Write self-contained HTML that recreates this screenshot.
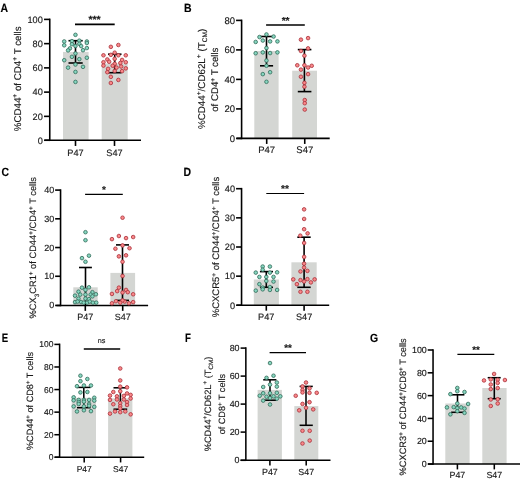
<!DOCTYPE html>
<html lang="en"><head><meta charset="utf-8"><title>Figure</title>
<style>html,body{margin:0;padding:0;background:#fff;}body{width:520px;height:488px;overflow:hidden;}svg{display:block;}text{stroke:#1a1a1a;stroke-width:.15px;}</style>
</head><body>
<svg width="520" height="488" viewBox="0 0 520 488" font-family="'Liberation Sans', Arial, sans-serif" fill="#1a1a1a" text-rendering="geometricPrecision">
<rect width="520" height="488" fill="#ffffff"/>
<g transform="translate(0,0.3)">
<g>
<text transform="translate(0.4,11.6) scale(0.88,1)" font-size="11.9" font-weight="bold" fill="#000">A</text>
<rect x="63.0" y="51.6" width="25.6" height="88.35" fill="#d4d6d3"/>
<rect x="101.7" y="63.15" width="26.0" height="76.8" fill="#d4d6d3"/>
<g stroke="#000" stroke-width="1.6" fill="none">
<line x1="49.75" y1="18.3" x2="49.75" y2="140.75"/>
<line x1="44.6" y1="139.95" x2="141.0" y2="139.95"/>
<line x1="44.05" y1="19.1" x2="49.75" y2="19.1"/>
<line x1="44.05" y1="43.34" x2="49.75" y2="43.34"/>
<line x1="44.05" y1="67.58" x2="49.75" y2="67.58"/>
<line x1="44.05" y1="91.82" x2="49.75" y2="91.82"/>
<line x1="44.05" y1="116.06" x2="49.75" y2="116.06"/>
<line x1="44.05" y1="139.95" x2="49.75" y2="139.95"/>
<line x1="75.5" y1="139.95" x2="75.5" y2="145.65"/>
<line x1="114.5" y1="139.95" x2="114.5" y2="145.65"/>
<line x1="75.5" y1="40.4" x2="75.5" y2="62.7"/>
<line x1="68.5" y1="40.4" x2="82.7" y2="40.4"/>
<line x1="68.5" y1="62.7" x2="82.7" y2="62.7"/>
<line x1="114.7" y1="53.9" x2="114.7" y2="72.4"/>
<line x1="108.0" y1="53.9" x2="121.5" y2="53.9"/>
<line x1="108.0" y1="72.4" x2="121.5" y2="72.4"/>
<line x1="75.0" y1="24.1" x2="114.7" y2="24.1" stroke-width="1.6"/>
</g>
<g font-size="9.2" text-anchor="end">
<text x="42.8" y="22.39">100</text>
<text x="42.8" y="46.63">80</text>
<text x="42.8" y="70.87">60</text>
<text x="42.8" y="95.11">40</text>
<text x="42.8" y="119.35">20</text>
<text x="42.8" y="143.59">0</text>
</g>
<g font-size="9.2" text-anchor="middle">
<text x="75.5" y="155.5">P47</text>
<text x="114.5" y="155.5">S47</text>
</g>
<text x="94.55" y="22.23" font-size="10.5" text-anchor="middle" font-weight="bold">***</text>
<text transform="translate(20.9,78.5) rotate(-90)" font-size="9.75" text-anchor="middle">%CD44<tspan dy="-3.51" font-size="6.63">+</tspan><tspan dy="3.51" font-size="1">&#8203;</tspan> of CD4<tspan dy="-3.51" font-size="6.63">+</tspan><tspan dy="3.51" font-size="1">&#8203;</tspan> T cells</text>
<g fill="#86d6c0" stroke="#38705f" stroke-width="0.85">
<circle cx="75.46" cy="34.54" r="1.8"/>
<circle cx="64.23" cy="41.15" r="1.8"/>
<circle cx="71.92" cy="40.85" r="1.8"/>
<circle cx="79.31" cy="40.38" r="1.8"/>
<circle cx="86.85" cy="41.15" r="1.8"/>
<circle cx="64.23" cy="45.0" r="1.8"/>
<circle cx="71.92" cy="43.92" r="1.8"/>
<circle cx="79.31" cy="43.46" r="1.8"/>
<circle cx="86.85" cy="42.69" r="1.8"/>
<circle cx="75.46" cy="45.77" r="1.8"/>
<circle cx="81.15" cy="45.77" r="1.8"/>
<circle cx="86.85" cy="47.77" r="1.8"/>
<circle cx="69.92" cy="48.08" r="1.8"/>
<circle cx="68.08" cy="50.08" r="1.8"/>
<circle cx="83.0" cy="49.92" r="1.8"/>
<circle cx="75.46" cy="53.15" r="1.8"/>
<circle cx="71.92" cy="56.54" r="1.8"/>
<circle cx="86.85" cy="57.46" r="1.8"/>
<circle cx="64.23" cy="59.92" r="1.8"/>
<circle cx="79.31" cy="58.85" r="1.8"/>
<circle cx="75.46" cy="64.23" r="1.8"/>
<circle cx="68.08" cy="67.31" r="1.8"/>
<circle cx="83.0" cy="66.54" r="1.8"/>
<circle cx="75.46" cy="71.62" r="1.8"/>
<circle cx="75.46" cy="81.62" r="1.8"/>
</g>
<g fill="#fa8889" stroke="#ac3640" stroke-width="0.85">
<circle cx="118.38" cy="44.69" r="1.8"/>
<circle cx="110.85" cy="46.54" r="1.8"/>
<circle cx="114.69" cy="52.38" r="1.8"/>
<circle cx="103.46" cy="55.0" r="1.8"/>
<circle cx="110.85" cy="54.54" r="1.8"/>
<circle cx="118.38" cy="55.0" r="1.8"/>
<circle cx="125.77" cy="55.0" r="1.8"/>
<circle cx="114.69" cy="58.54" r="1.8"/>
<circle cx="107.31" cy="59.15" r="1.8"/>
<circle cx="122.08" cy="59.62" r="1.8"/>
<circle cx="103.46" cy="61.92" r="1.8"/>
<circle cx="109.15" cy="61.46" r="1.8"/>
<circle cx="120.38" cy="62.69" r="1.8"/>
<circle cx="125.77" cy="61.92" r="1.8"/>
<circle cx="114.69" cy="63.46" r="1.8"/>
<circle cx="103.46" cy="65.31" r="1.8"/>
<circle cx="112.69" cy="65.46" r="1.8"/>
<circle cx="116.54" cy="67.31" r="1.8"/>
<circle cx="121.15" cy="66.23" r="1.8"/>
<circle cx="125.77" cy="68.08" r="1.8"/>
<circle cx="108.08" cy="68.54" r="1.8"/>
<circle cx="107.31" cy="71.92" r="1.8"/>
<circle cx="114.69" cy="70.69" r="1.8"/>
<circle cx="122.08" cy="70.85" r="1.8"/>
<circle cx="110.85" cy="76.54" r="1.8"/>
<circle cx="118.38" cy="79.62" r="1.8"/>
<circle cx="110.85" cy="82.69" r="1.8"/>
</g>
</g>
<g>
<text transform="translate(183.9,11.8) scale(0.88,1)" font-size="11.9" font-weight="bold" fill="#000">B</text>
<rect x="254.3" y="50.7" width="24.3" height="87.4" fill="#d4d6d3"/>
<rect x="292.2" y="70.4" width="24.8" height="67.7" fill="#d4d6d3"/>
<g stroke="#000" stroke-width="1.6" fill="none">
<line x1="241.6" y1="19.3" x2="241.6" y2="138.9"/>
<line x1="236.6" y1="138.1" x2="329.7" y2="138.1"/>
<line x1="236.07" y1="20.1" x2="241.6" y2="20.1"/>
<line x1="236.07" y1="49.6" x2="241.6" y2="49.6"/>
<line x1="236.07" y1="79.1" x2="241.6" y2="79.1"/>
<line x1="236.07" y1="108.6" x2="241.6" y2="108.6"/>
<line x1="236.07" y1="138.1" x2="241.6" y2="138.1"/>
<line x1="266.7" y1="138.1" x2="266.7" y2="143.63"/>
<line x1="304.75" y1="138.1" x2="304.75" y2="143.63"/>
<line x1="266.5" y1="36.2" x2="266.5" y2="65.5"/>
<line x1="260.0" y1="36.2" x2="273.1" y2="36.2"/>
<line x1="260.0" y1="65.5" x2="273.1" y2="65.5"/>
<line x1="304.4" y1="49.3" x2="304.4" y2="91.3"/>
<line x1="297.8" y1="49.3" x2="311.4" y2="49.3"/>
<line x1="297.8" y1="91.3" x2="311.4" y2="91.3"/>
<line x1="266.1" y1="24.7" x2="304.8" y2="24.7" stroke-width="1.45"/>
</g>
<g font-size="9.5" text-anchor="end">
<text x="235.1" y="23.5">80</text>
<text x="235.1" y="53.0">60</text>
<text x="235.1" y="82.5">40</text>
<text x="235.1" y="112.0">20</text>
<text x="235.1" y="141.5">0</text>
</g>
<g font-size="9.5" text-anchor="middle">
<text x="266.7" y="152.6">P47</text>
<text x="304.75" y="152.6">S47</text>
</g>
<text x="285.6" y="23.39" font-size="10.2" text-anchor="middle" font-weight="bold">**</text>
<text transform="translate(204.7,78.6) rotate(-90)" font-size="9.8" text-anchor="middle">%CD44<tspan dy="-3.53" font-size="6.66">+</tspan><tspan dy="3.53" font-size="1">&#8203;</tspan>/CD62L<tspan dy="-3.53" font-size="6.66">+</tspan><tspan dy="3.53" font-size="1">&#8203;</tspan> (T<tspan dy="2.65" font-size="6.66">CM</tspan><tspan dy="-2.65" font-size="1">&#8203;</tspan>)</text>
<text transform="translate(218.4,79.4) rotate(-90)" font-size="9.7" text-anchor="middle">of CD4<tspan dy="-3.49" font-size="6.6">+</tspan><tspan dy="3.49" font-size="1">&#8203;</tspan> T cells</text>
<g fill="#86d6c0" stroke="#38705f" stroke-width="0.85">
<circle cx="266.46" cy="34.15" r="1.8"/>
<circle cx="259.5" cy="36.76" r="1.8"/>
<circle cx="273.6" cy="36.24" r="1.8"/>
<circle cx="255.67" cy="41.64" r="1.8"/>
<circle cx="262.81" cy="40.24" r="1.8"/>
<circle cx="270.12" cy="41.11" r="1.8"/>
<circle cx="277.43" cy="41.11" r="1.8"/>
<circle cx="266.46" cy="47.73" r="1.8"/>
<circle cx="255.67" cy="52.95" r="1.8"/>
<circle cx="262.81" cy="52.08" r="1.8"/>
<circle cx="270.12" cy="52.78" r="1.8"/>
<circle cx="277.43" cy="52.08" r="1.8"/>
<circle cx="266.46" cy="60.26" r="1.8"/>
<circle cx="266.46" cy="65.49" r="1.8"/>
<circle cx="262.81" cy="73.84" r="1.8"/>
<circle cx="270.12" cy="71.93" r="1.8"/>
<circle cx="266.46" cy="81.5" r="1.8"/>
</g>
<g fill="#fa8889" stroke="#ac3640" stroke-width="0.85">
<circle cx="308.07" cy="37.81" r="1.8"/>
<circle cx="300.93" cy="39.37" r="1.8"/>
<circle cx="308.07" cy="48.08" r="1.8"/>
<circle cx="300.93" cy="50.69" r="1.8"/>
<circle cx="304.42" cy="55.39" r="1.8"/>
<circle cx="297.28" cy="64.97" r="1.8"/>
<circle cx="304.42" cy="64.97" r="1.8"/>
<circle cx="311.73" cy="65.49" r="1.8"/>
<circle cx="308.07" cy="67.23" r="1.8"/>
<circle cx="300.93" cy="69.32" r="1.8"/>
<circle cx="308.07" cy="73.84" r="1.8"/>
<circle cx="300.93" cy="76.46" r="1.8"/>
<circle cx="304.42" cy="82.55" r="1.8"/>
<circle cx="304.42" cy="86.38" r="1.8"/>
<circle cx="304.75" cy="99.75" r="1.8"/>
<circle cx="304.75" cy="102.92" r="1.8"/>
<circle cx="304.75" cy="109.27" r="1.8"/>
</g>
</g>
<g>
<text transform="translate(1.4,175.8) scale(0.88,1)" font-size="11.9" font-weight="bold" fill="#000">C</text>
<rect x="73.3" y="287.0" width="24.4" height="18.15" fill="#d4d6d3"/>
<rect x="110.4" y="272.6" width="24.7" height="32.55" fill="#d4d6d3"/>
<g stroke="#000" stroke-width="1.6" fill="none">
<line x1="60.55" y1="189.0" x2="60.55" y2="305.95"/>
<line x1="56.4" y1="305.15" x2="148.1" y2="305.15"/>
<line x1="55.13" y1="189.8" x2="60.55" y2="189.8"/>
<line x1="55.13" y1="218.52" x2="60.55" y2="218.52"/>
<line x1="55.13" y1="247.24" x2="60.55" y2="247.24"/>
<line x1="55.13" y1="275.96" x2="60.55" y2="275.96"/>
<line x1="55.13" y1="305.15" x2="60.55" y2="305.15"/>
<line x1="85.3" y1="305.15" x2="85.3" y2="310.56"/>
<line x1="122.7" y1="305.15" x2="122.7" y2="310.56"/>
<line x1="85.5" y1="267.2" x2="85.5" y2="305.15"/>
<line x1="79.0" y1="267.2" x2="91.9" y2="267.2"/>
<line x1="122.5" y1="244.6" x2="122.5" y2="300.1"/>
<line x1="116.0" y1="244.6" x2="129.0" y2="244.6"/>
<line x1="116.0" y1="300.1" x2="129.0" y2="300.1"/>
<line x1="85.1" y1="194.1" x2="122.8" y2="194.1" stroke-width="1.15"/>
</g>
<g font-size="9.0" text-anchor="end">
<text x="54.2" y="193.02">40</text>
<text x="54.2" y="221.74">30</text>
<text x="54.2" y="250.46">20</text>
<text x="54.2" y="279.18">10</text>
<text x="54.2" y="307.9">0</text>
</g>
<g font-size="9.0" text-anchor="middle">
<text x="85.3" y="319.9">P47</text>
<text x="122.7" y="319.9">S47</text>
</g>
<text x="103.9" y="192.9" font-size="10.0" text-anchor="middle" font-weight="bold">*</text>
<text transform="translate(36.0,247.5) rotate(-90)" font-size="9.3" text-anchor="middle">%CX<tspan dy="2.51" font-size="6.32">3</tspan><tspan dy="-2.51" font-size="1">&#8203;</tspan>CR1<tspan dy="-3.35" font-size="6.32">+</tspan><tspan dy="3.35" font-size="1">&#8203;</tspan> of CD44<tspan dy="-3.35" font-size="6.32">+</tspan><tspan dy="3.35" font-size="1">&#8203;</tspan>/CD4<tspan dy="-3.35" font-size="6.32">+</tspan><tspan dy="3.35" font-size="1">&#8203;</tspan> T cells</text>
<g fill="#86d6c0" stroke="#38705f" stroke-width="0.85">
<circle cx="85.47" cy="231.88" r="1.8"/>
<circle cx="85.47" cy="239.89" r="1.8"/>
<circle cx="88.95" cy="255.38" r="1.8"/>
<circle cx="81.98" cy="257.82" r="1.8"/>
<circle cx="85.47" cy="261.48" r="1.8"/>
<circle cx="81.98" cy="287.35" r="1.8"/>
<circle cx="88.95" cy="287.01" r="1.8"/>
<circle cx="85.47" cy="289.62" r="1.8"/>
<circle cx="78.5" cy="291.36" r="1.8"/>
<circle cx="92.43" cy="291.88" r="1.8"/>
<circle cx="75.02" cy="295.36" r="1.8"/>
<circle cx="80.24" cy="294.32" r="1.8"/>
<circle cx="85.47" cy="294.32" r="1.8"/>
<circle cx="90.69" cy="294.32" r="1.8"/>
<circle cx="95.91" cy="293.97" r="1.8"/>
<circle cx="92.43" cy="296.06" r="1.8"/>
<circle cx="78.5" cy="298.32" r="1.8"/>
<circle cx="85.47" cy="298.32" r="1.8"/>
<circle cx="88.95" cy="298.84" r="1.8"/>
<circle cx="75.02" cy="301.8" r="1.8"/>
<circle cx="77.63" cy="301.28" r="1.8"/>
<circle cx="81.11" cy="301.8" r="1.8"/>
<circle cx="83.73" cy="302.33" r="1.8"/>
<circle cx="87.21" cy="302.33" r="1.8"/>
<circle cx="89.82" cy="301.28" r="1.8"/>
<circle cx="92.95" cy="302.33" r="1.8"/>
<circle cx="96.26" cy="302.33" r="1.8"/>
</g>
<g fill="#fa8889" stroke="#ac3640" stroke-width="0.85">
<circle cx="122.55" cy="217.43" r="1.8"/>
<circle cx="118.89" cy="235.71" r="1.8"/>
<circle cx="111.93" cy="238.84" r="1.8"/>
<circle cx="126.03" cy="237.8" r="1.8"/>
<circle cx="133.17" cy="236.75" r="1.8"/>
<circle cx="122.55" cy="245.11" r="1.8"/>
<circle cx="115.41" cy="248.42" r="1.8"/>
<circle cx="129.51" cy="247.9" r="1.8"/>
<circle cx="118.89" cy="256.08" r="1.8"/>
<circle cx="126.03" cy="255.03" r="1.8"/>
<circle cx="122.55" cy="261.48" r="1.8"/>
<circle cx="122.55" cy="275.69" r="1.8"/>
<circle cx="118.89" cy="287.35" r="1.8"/>
<circle cx="126.03" cy="289.62" r="1.8"/>
<circle cx="117.15" cy="290.84" r="1.8"/>
<circle cx="127.77" cy="291.88" r="1.8"/>
<circle cx="122.55" cy="292.23" r="1.8"/>
<circle cx="111.93" cy="293.62" r="1.8"/>
<circle cx="133.17" cy="293.97" r="1.8"/>
<circle cx="111.93" cy="303.02" r="1.8"/>
<circle cx="115.93" cy="300.93" r="1.8"/>
<circle cx="120.29" cy="302.33" r="1.8"/>
<circle cx="124.64" cy="301.28" r="1.8"/>
<circle cx="128.99" cy="303.02" r="1.8"/>
<circle cx="133.17" cy="301.8" r="1.8"/>
<circle cx="122.55" cy="300.06" r="1.8"/>
</g>
</g>
<g>
<text transform="translate(183.6,175.9) scale(0.88,1)" font-size="11.9" font-weight="bold" fill="#000">D</text>
<rect x="253.8" y="279.2" width="25.1" height="25.7" fill="#d4d6d3"/>
<rect x="291.4" y="262.0" width="25.3" height="42.9" fill="#d4d6d3"/>
<g stroke="#000" stroke-width="1.6" fill="none">
<line x1="241.55" y1="187.6" x2="241.55" y2="305.7"/>
<line x1="236.8" y1="304.9" x2="329.2" y2="304.9"/>
<line x1="236.06" y1="188.4" x2="241.55" y2="188.4"/>
<line x1="236.06" y1="217.55" x2="241.55" y2="217.55"/>
<line x1="236.06" y1="246.7" x2="241.55" y2="246.7"/>
<line x1="236.06" y1="275.85" x2="241.55" y2="275.85"/>
<line x1="236.06" y1="304.9" x2="241.55" y2="304.9"/>
<line x1="266.3" y1="304.9" x2="266.3" y2="310.39"/>
<line x1="304.1" y1="304.9" x2="304.1" y2="310.39"/>
<line x1="266.3" y1="271.3" x2="266.3" y2="287.0"/>
<line x1="259.9" y1="271.3" x2="273.0" y2="271.3"/>
<line x1="259.9" y1="287.0" x2="273.0" y2="287.0"/>
<line x1="304.1" y1="236.9" x2="304.1" y2="287.0"/>
<line x1="297.3" y1="236.9" x2="310.7" y2="236.9"/>
<line x1="297.3" y1="287.0" x2="310.7" y2="287.0"/>
<line x1="266.3" y1="193.2" x2="304.1" y2="193.2" stroke-width="1.15"/>
</g>
<g font-size="9.2" text-anchor="end">
<text x="235.0" y="191.69">40</text>
<text x="235.0" y="220.84">30</text>
<text x="235.0" y="249.99">20</text>
<text x="235.0" y="279.14">10</text>
<text x="235.0" y="308.29">0</text>
</g>
<g font-size="9.2" text-anchor="middle">
<text x="266.3" y="319.9">P47</text>
<text x="304.1" y="319.9">S47</text>
</g>
<text x="285.0" y="191.84" font-size="10.1" text-anchor="middle" font-weight="bold">**</text>
<text transform="translate(219.0,246.7) rotate(-90)" font-size="9.47" text-anchor="middle">%CXCR5<tspan dy="-3.41" font-size="6.44">+</tspan><tspan dy="3.41" font-size="1">&#8203;</tspan> of CD44<tspan dy="-3.41" font-size="6.44">+</tspan><tspan dy="3.41" font-size="1">&#8203;</tspan>/CD4<tspan dy="-3.41" font-size="6.44">+</tspan><tspan dy="3.41" font-size="1">&#8203;</tspan> T cells</text>
<g fill="#86d6c0" stroke="#38705f" stroke-width="0.85">
<circle cx="262.69" cy="266.25" r="1.8"/>
<circle cx="269.9" cy="266.25" r="1.8"/>
<circle cx="262.69" cy="269.42" r="1.8"/>
<circle cx="255.77" cy="272.31" r="1.8"/>
<circle cx="269.9" cy="272.31" r="1.8"/>
<circle cx="277.12" cy="272.02" r="1.8"/>
<circle cx="259.38" cy="276.64" r="1.8"/>
<circle cx="266.3" cy="276.64" r="1.8"/>
<circle cx="273.51" cy="276.64" r="1.8"/>
<circle cx="266.3" cy="280.67" r="1.8"/>
<circle cx="273.51" cy="281.25" r="1.8"/>
<circle cx="259.38" cy="283.85" r="1.8"/>
<circle cx="262.69" cy="287.31" r="1.8"/>
<circle cx="269.9" cy="286.73" r="1.8"/>
<circle cx="255.77" cy="290.34" r="1.8"/>
<circle cx="269.9" cy="289.62" r="1.8"/>
<circle cx="277.12" cy="289.62" r="1.8"/>
<circle cx="262.69" cy="289.04" r="1.8"/>
</g>
<g fill="#fa8889" stroke="#ac3640" stroke-width="0.85">
<circle cx="304.12" cy="209.07" r="1.8"/>
<circle cx="304.12" cy="218.65" r="1.8"/>
<circle cx="304.12" cy="228.92" r="1.8"/>
<circle cx="300.29" cy="235.36" r="1.8"/>
<circle cx="307.6" cy="233.1" r="1.8"/>
<circle cx="304.12" cy="242.67" r="1.8"/>
<circle cx="304.12" cy="256.6" r="1.8"/>
<circle cx="304.09" cy="263.37" r="1.8"/>
<circle cx="304.09" cy="267.26" r="1.8"/>
<circle cx="300.48" cy="271.15" r="1.8"/>
<circle cx="307.41" cy="270.58" r="1.8"/>
<circle cx="293.27" cy="279.09" r="1.8"/>
<circle cx="300.48" cy="279.81" r="1.8"/>
<circle cx="307.41" cy="278.8" r="1.8"/>
<circle cx="314.62" cy="279.09" r="1.8"/>
<circle cx="296.88" cy="283.85" r="1.8"/>
<circle cx="304.09" cy="281.25" r="1.8"/>
<circle cx="310.87" cy="282.12" r="1.8"/>
<circle cx="300.48" cy="291.49" r="1.8"/>
<circle cx="307.41" cy="291.49" r="1.8"/>
</g>
</g>
<g>
<text transform="translate(1.8,341.4) scale(0.78,1)" font-size="12.3" font-weight="bold" fill="#000">E</text>
<rect x="71.7" y="397.5" width="24.3" height="59.4" fill="#d4d6d3"/>
<rect x="108.1" y="398.0" width="24.3" height="58.9" fill="#d4d6d3"/>
<g stroke="#000" stroke-width="1.54" fill="none">
<line x1="59.6" y1="343.3" x2="59.6" y2="457.7"/>
<line x1="54.8" y1="456.9" x2="144.2" y2="456.9"/>
<line x1="54.36" y1="344.1" x2="59.6" y2="344.1"/>
<line x1="54.36" y1="366.68" x2="59.6" y2="366.68"/>
<line x1="54.36" y1="389.26" x2="59.6" y2="389.26"/>
<line x1="54.36" y1="411.84" x2="59.6" y2="411.84"/>
<line x1="54.36" y1="434.42" x2="59.6" y2="434.42"/>
<line x1="54.36" y1="456.9" x2="59.6" y2="456.9"/>
<line x1="84.2" y1="456.9" x2="84.2" y2="462.14"/>
<line x1="120.6" y1="456.9" x2="120.6" y2="462.14"/>
<line x1="83.8" y1="387.1" x2="83.8" y2="407.4"/>
<line x1="77.0" y1="387.1" x2="90.6" y2="387.1"/>
<line x1="77.0" y1="407.4" x2="90.6" y2="407.4"/>
<line x1="120.4" y1="387.5" x2="120.4" y2="408.9"/>
<line x1="113.5" y1="387.5" x2="127.2" y2="387.5"/>
<line x1="113.5" y1="408.9" x2="127.2" y2="408.9"/>
<line x1="83.8" y1="348.7" x2="120.2" y2="348.7" stroke-width="1.5"/>
</g>
<g font-size="8.5" text-anchor="end">
<text x="53.5" y="347.14">100</text>
<text x="53.5" y="369.72">80</text>
<text x="53.5" y="392.3">60</text>
<text x="53.5" y="414.88">40</text>
<text x="53.5" y="437.46">20</text>
<text x="53.5" y="460.04">0</text>
</g>
<g font-size="8.5" text-anchor="middle">
<text x="84.2" y="471.4">P47</text>
<text x="120.6" y="471.4">S47</text>
</g>
<text x="101.5" y="342.4" font-size="7.2" text-anchor="middle" stroke="none">ns</text>
<text transform="translate(32.8,400.7) rotate(-90)" font-size="9.12" text-anchor="middle">%CD44<tspan dy="-3.28" font-size="6.2">+</tspan><tspan dy="3.28" font-size="1">&#8203;</tspan> of CD8<tspan dy="-3.28" font-size="6.2">+</tspan><tspan dy="3.28" font-size="1">&#8203;</tspan> T cells</text>
<g fill="#86d6c0" stroke="#38705f" stroke-width="0.85">
<circle cx="80.43" cy="375.39" r="1.8"/>
<circle cx="80.43" cy="380.87" r="1.8"/>
<circle cx="87.36" cy="378.7" r="1.8"/>
<circle cx="76.97" cy="385.91" r="1.8"/>
<circle cx="83.9" cy="385.19" r="1.8"/>
<circle cx="90.96" cy="385.19" r="1.8"/>
<circle cx="80.43" cy="392.12" r="1.8"/>
<circle cx="87.36" cy="391.68" r="1.8"/>
<circle cx="73.65" cy="397.02" r="1.8"/>
<circle cx="73.65" cy="400.05" r="1.8"/>
<circle cx="73.65" cy="406.11" r="1.8"/>
<circle cx="78.7" cy="399.62" r="1.8"/>
<circle cx="78.7" cy="401.78" r="1.8"/>
<circle cx="78.7" cy="403.66" r="1.8"/>
<circle cx="83.9" cy="399.62" r="1.8"/>
<circle cx="83.9" cy="401.35" r="1.8"/>
<circle cx="83.9" cy="406.11" r="1.8"/>
<circle cx="89.09" cy="399.62" r="1.8"/>
<circle cx="89.09" cy="403.66" r="1.8"/>
<circle cx="89.09" cy="405.39" r="1.8"/>
<circle cx="94.28" cy="397.45" r="1.8"/>
<circle cx="94.28" cy="400.34" r="1.8"/>
<circle cx="94.28" cy="406.54" r="1.8"/>
<circle cx="76.97" cy="411.16" r="1.8"/>
<circle cx="83.9" cy="410.0" r="1.8"/>
<circle cx="90.96" cy="410.87" r="1.8"/>
</g>
<g fill="#fa8889" stroke="#ac3640" stroke-width="0.85">
<circle cx="120.24" cy="368.17" r="1.8"/>
<circle cx="120.24" cy="380.14" r="1.8"/>
<circle cx="120.24" cy="386.35" r="1.8"/>
<circle cx="127.02" cy="387.07" r="1.8"/>
<circle cx="120.24" cy="390.96" r="1.8"/>
<circle cx="113.32" cy="391.68" r="1.8"/>
<circle cx="127.02" cy="393.13" r="1.8"/>
<circle cx="130.63" cy="394.57" r="1.8"/>
<circle cx="110.0" cy="395.29" r="1.8"/>
<circle cx="116.93" cy="396.01" r="1.8"/>
<circle cx="123.85" cy="395.58" r="1.8"/>
<circle cx="130.63" cy="398.17" r="1.8"/>
<circle cx="110.0" cy="399.62" r="1.8"/>
<circle cx="116.93" cy="399.18" r="1.8"/>
<circle cx="123.85" cy="399.18" r="1.8"/>
<circle cx="127.02" cy="401.78" r="1.8"/>
<circle cx="120.24" cy="402.79" r="1.8"/>
<circle cx="113.32" cy="403.94" r="1.8"/>
<circle cx="127.02" cy="404.67" r="1.8"/>
<circle cx="120.24" cy="405.82" r="1.8"/>
<circle cx="120.24" cy="408.27" r="1.8"/>
<circle cx="115.05" cy="411.16" r="1.8"/>
<circle cx="120.24" cy="411.88" r="1.8"/>
<circle cx="125.29" cy="411.16" r="1.8"/>
<circle cx="110.0" cy="413.32" r="1.8"/>
<circle cx="130.63" cy="414.04" r="1.8"/>
</g>
</g>
<g>
<text transform="translate(185.0,341.4) scale(0.78,1)" font-size="12.3" font-weight="bold" fill="#000">F</text>
<rect x="257.6" y="389.6" width="24.3" height="70.4" fill="#d4d6d3"/>
<rect x="294.3" y="405.8" width="24.0" height="54.2" fill="#d4d6d3"/>
<g stroke="#000" stroke-width="1.54" fill="none">
<line x1="245.85" y1="347.0" x2="245.85" y2="460.8"/>
<line x1="240.5" y1="460.0" x2="330.5" y2="460.0"/>
<line x1="240.61" y1="347.8" x2="245.85" y2="347.8"/>
<line x1="240.61" y1="375.8" x2="245.85" y2="375.8"/>
<line x1="240.61" y1="403.8" x2="245.85" y2="403.8"/>
<line x1="240.61" y1="431.8" x2="245.85" y2="431.8"/>
<line x1="240.61" y1="460.0" x2="245.85" y2="460.0"/>
<line x1="269.9" y1="460.0" x2="269.9" y2="465.24"/>
<line x1="306.2" y1="460.0" x2="306.2" y2="465.24"/>
<line x1="270.0" y1="379.5" x2="270.0" y2="399.9"/>
<line x1="263.2" y1="379.5" x2="276.4" y2="379.5"/>
<line x1="263.2" y1="399.9" x2="276.4" y2="399.9"/>
<line x1="306.0" y1="386.1" x2="306.0" y2="425.0"/>
<line x1="299.6" y1="386.1" x2="312.8" y2="386.1"/>
<line x1="299.6" y1="425.0" x2="312.8" y2="425.0"/>
<line x1="269.6" y1="352.3" x2="306.0" y2="352.3" stroke-width="1.15"/>
</g>
<g font-size="8.9" text-anchor="end">
<text x="239.5" y="350.99">80</text>
<text x="239.5" y="378.99">60</text>
<text x="239.5" y="406.99">40</text>
<text x="239.5" y="434.99">20</text>
<text x="239.5" y="462.99">0</text>
</g>
<g font-size="8.9" text-anchor="middle">
<text x="269.9" y="474.3">P47</text>
<text x="306.2" y="474.3">S47</text>
</g>
<text x="287.9" y="351.17" font-size="9.7" text-anchor="middle" font-weight="bold">**</text>
<text transform="translate(210.6,403.7) rotate(-90)" font-size="9.23" text-anchor="middle">%CD44<tspan dy="-3.32" font-size="6.28">+</tspan><tspan dy="3.32" font-size="1">&#8203;</tspan>/CD62L<tspan dy="-3.32" font-size="6.28">+</tspan><tspan dy="3.32" font-size="1">&#8203;</tspan> (T<tspan dy="2.49" font-size="6.28">CM</tspan><tspan dy="-2.49" font-size="1">&#8203;</tspan>)</text>
<text transform="translate(225.0,403.85) rotate(-90)" font-size="9.11" text-anchor="middle">of CD8<tspan dy="-3.28" font-size="6.19">+</tspan><tspan dy="3.28" font-size="1">&#8203;</tspan> T cells</text>
<g fill="#86d6c0" stroke="#38705f" stroke-width="0.85">
<circle cx="270.02" cy="362.76" r="1.8"/>
<circle cx="266.52" cy="377.55" r="1.8"/>
<circle cx="273.52" cy="375.41" r="1.8"/>
<circle cx="276.83" cy="382.22" r="1.8"/>
<circle cx="270.02" cy="384.36" r="1.8"/>
<circle cx="263.21" cy="386.69" r="1.8"/>
<circle cx="276.83" cy="386.3" r="1.8"/>
<circle cx="259.71" cy="395.45" r="1.8"/>
<circle cx="263.21" cy="392.92" r="1.8"/>
<circle cx="270.02" cy="392.92" r="1.8"/>
<circle cx="276.83" cy="392.53" r="1.8"/>
<circle cx="266.52" cy="396.42" r="1.8"/>
<circle cx="273.52" cy="396.03" r="1.8"/>
<circle cx="280.33" cy="396.03" r="1.8"/>
<circle cx="270.02" cy="397.78" r="1.8"/>
<circle cx="263.21" cy="400.31" r="1.8"/>
<circle cx="276.83" cy="398.37" r="1.8"/>
<circle cx="270.02" cy="404.2" r="1.8"/>
</g>
<g fill="#fa8889" stroke="#ac3640" stroke-width="0.85">
<circle cx="306.01" cy="382.22" r="1.8"/>
<circle cx="302.51" cy="386.11" r="1.8"/>
<circle cx="309.51" cy="388.05" r="1.8"/>
<circle cx="302.51" cy="389.61" r="1.8"/>
<circle cx="302.51" cy="392.14" r="1.8"/>
<circle cx="309.51" cy="392.53" r="1.8"/>
<circle cx="316.71" cy="392.53" r="1.8"/>
<circle cx="295.7" cy="395.45" r="1.8"/>
<circle cx="309.51" cy="401.87" r="1.8"/>
<circle cx="302.51" cy="403.62" r="1.8"/>
<circle cx="299.2" cy="410.04" r="1.8"/>
<circle cx="306.01" cy="407.51" r="1.8"/>
<circle cx="313.21" cy="409.07" r="1.8"/>
<circle cx="302.49" cy="430.48" r="1.8"/>
<circle cx="309.7" cy="430.48" r="1.8"/>
<circle cx="309.7" cy="440.28" r="1.8"/>
<circle cx="302.49" cy="443.17" r="1.8"/>
</g>
</g>
<g>
<text transform="translate(370.0,341.4) scale(0.88,1)" font-size="11.9" font-weight="bold" fill="#000">G</text>
<rect x="445.3" y="403.2" width="24.3" height="60.55" fill="#d4d6d3"/>
<rect x="482.3" y="387.7" width="24.3" height="76.05" fill="#d4d6d3"/>
<g stroke="#000" stroke-width="1.55" fill="none">
<line x1="433.05" y1="348.9" x2="433.05" y2="464.55"/>
<line x1="428.0" y1="463.75" x2="521.0" y2="463.75"/>
<line x1="427.69" y1="349.7" x2="433.05" y2="349.7"/>
<line x1="427.69" y1="372.51" x2="433.05" y2="372.51"/>
<line x1="427.69" y1="395.32" x2="433.05" y2="395.32"/>
<line x1="427.69" y1="418.13" x2="433.05" y2="418.13"/>
<line x1="427.69" y1="440.94" x2="433.05" y2="440.94"/>
<line x1="427.69" y1="463.75" x2="433.05" y2="463.75"/>
<line x1="457.4" y1="463.75" x2="457.4" y2="469.11"/>
<line x1="494.3" y1="463.75" x2="494.3" y2="469.11"/>
<line x1="457.5" y1="394.5" x2="457.5" y2="412.0"/>
<line x1="451.1" y1="394.5" x2="464.4" y2="394.5"/>
<line x1="451.1" y1="412.0" x2="464.4" y2="412.0"/>
<line x1="494.3" y1="377.4" x2="494.3" y2="398.4"/>
<line x1="487.7" y1="377.4" x2="500.7" y2="377.4"/>
<line x1="487.7" y1="398.4" x2="500.7" y2="398.4"/>
<line x1="457.4" y1="354.1" x2="494.3" y2="354.1" stroke-width="1.4"/>
</g>
<g font-size="8.9" text-anchor="end">
<text x="426.8" y="352.89">100</text>
<text x="426.8" y="375.7">80</text>
<text x="426.8" y="398.51">60</text>
<text x="426.8" y="421.32">40</text>
<text x="426.8" y="444.13">20</text>
<text x="426.8" y="466.94">0</text>
</g>
<g font-size="8.9" text-anchor="middle">
<text x="457.4" y="477.8">P47</text>
<text x="494.3" y="477.8">S47</text>
</g>
<text x="476.0" y="352.56" font-size="9.9" text-anchor="middle" font-weight="bold">**</text>
<text transform="translate(406.4,406.55) rotate(-90)" font-size="9.25" text-anchor="middle">%CXCR3<tspan dy="-3.33" font-size="6.29">+</tspan><tspan dy="3.33" font-size="1">&#8203;</tspan> of CD44<tspan dy="-3.33" font-size="6.29">+</tspan><tspan dy="3.33" font-size="1">&#8203;</tspan>/CD8<tspan dy="-3.33" font-size="6.29">+</tspan><tspan dy="3.33" font-size="1">&#8203;</tspan> T cells</text>
<g fill="#86d6c0" stroke="#38705f" stroke-width="0.85">
<circle cx="457.31" cy="387.65" r="1.8"/>
<circle cx="457.31" cy="390.96" r="1.8"/>
<circle cx="450.39" cy="393.85" r="1.8"/>
<circle cx="464.52" cy="391.68" r="1.8"/>
<circle cx="457.31" cy="403.22" r="1.8"/>
<circle cx="468.13" cy="403.66" r="1.8"/>
<circle cx="446.92" cy="407.12" r="1.8"/>
<circle cx="453.7" cy="406.83" r="1.8"/>
<circle cx="457.31" cy="407.84" r="1.8"/>
<circle cx="461.2" cy="407.12" r="1.8"/>
<circle cx="464.52" cy="408.27" r="1.8"/>
<circle cx="457.31" cy="410.87" r="1.8"/>
<circle cx="450.39" cy="414.04" r="1.8"/>
<circle cx="464.52" cy="412.6" r="1.8"/>
</g>
<g fill="#fa8889" stroke="#ac3640" stroke-width="0.85">
<circle cx="494.09" cy="373.65" r="1.8"/>
<circle cx="483.99" cy="380.14" r="1.8"/>
<circle cx="490.77" cy="379.14" r="1.8"/>
<circle cx="497.7" cy="379.42" r="1.8"/>
<circle cx="504.91" cy="379.71" r="1.8"/>
<circle cx="497.7" cy="382.6" r="1.8"/>
<circle cx="490.77" cy="384.18" r="1.8"/>
<circle cx="490.77" cy="388.8" r="1.8"/>
<circle cx="497.7" cy="387.79" r="1.8"/>
<circle cx="490.77" cy="399.18" r="1.8"/>
<circle cx="497.7" cy="398.9" r="1.8"/>
<circle cx="497.7" cy="403.22" r="1.8"/>
<circle cx="490.77" cy="405.68" r="1.8"/>
</g>
</g>
</g>
</svg></body></html>
